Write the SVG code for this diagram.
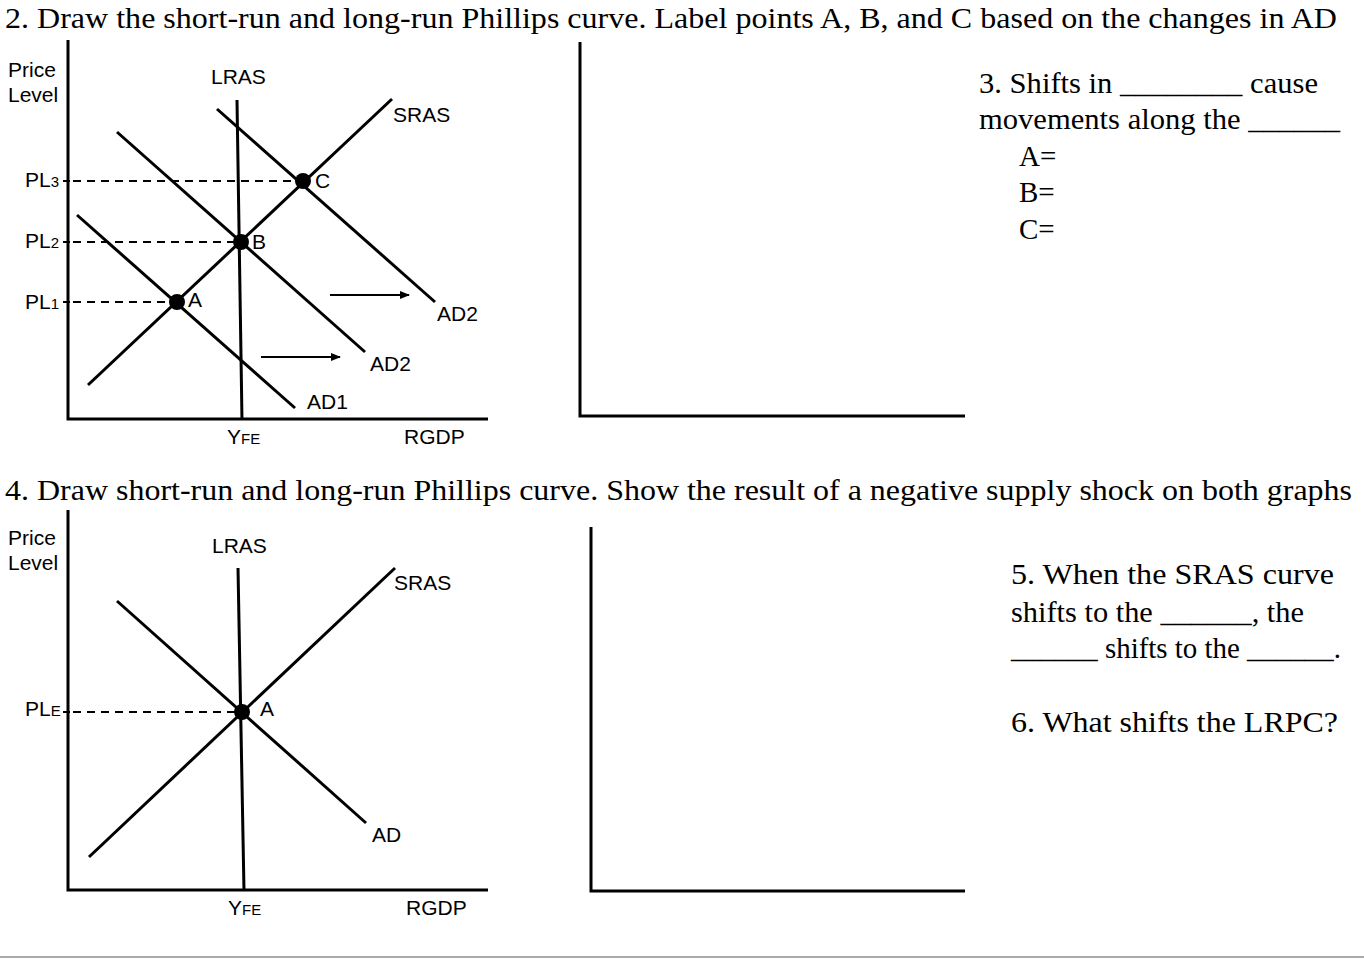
<svg xmlns="http://www.w3.org/2000/svg" width="1364" height="962" viewBox="0 0 1364 962">
<style>
.t{font-family:"Liberation Serif",serif;font-size:29px;fill:#000}
.s{font-family:"Liberation Sans",sans-serif;font-size:21px;fill:#000}
.sm{font-family:"Liberation Sans",sans-serif;font-size:15px}
.ax{stroke:#000;stroke-width:3;fill:none}
.ln{stroke:#000;stroke-width:3;fill:none}
.d{stroke:#000;stroke-width:2;stroke-dasharray:8,6;fill:none}
</style>
<defs><marker id="ar" markerWidth="10" markerHeight="8" refX="9" refY="4" orient="auto" markerUnits="userSpaceOnUse"><path d="M0,0L10,4L0,8z" fill="#000"/></marker></defs>
<rect width="1364" height="962" fill="#fff"/>
<text class="t" x="5" y="28" textLength="1332" lengthAdjust="spacingAndGlyphs">2. Draw the short-run and long-run Phillips curve. Label points A, B, and C based on the changes in AD</text>
<text class="t" x="5" y="500" textLength="1347" lengthAdjust="spacingAndGlyphs">4. Draw short-run and long-run Phillips curve. Show the result of a negative supply shock on both graphs</text>
<g id="graph1">
<path class="ax" d="M68,40V419H488"/>
<path class="ln" d="M237,100L242,420"/>
<path class="ln" d="M88,385L392,99"/>
<path class="ln" d="M77,215L295,408"/>
<path class="ln" d="M117,132L365,352"/>
<path class="ln" d="M217,109L435,302"/>
<path class="d" d="M73,181H303M73,242H241M73,302H177"/>
<path d="M63,181H70M63,242H70M63,302H70" stroke="#000" stroke-width="2"/>
<circle cx="177" cy="302" r="8"/><circle cx="241" cy="242" r="8"/><circle cx="303" cy="181" r="8"/>
<text class="s" x="8" y="77">Price</text><text class="s" x="8" y="102">Level</text>
<text class="s" x="211" y="84">LRAS</text><text class="s" x="393" y="122">SRAS</text>
<text class="s" x="437" y="321">AD2</text><text class="s" x="370" y="371">AD2</text><text class="s" x="307" y="409">AD1</text>
<text class="s" x="227" y="444">Y<tspan class="sm">FE</tspan></text><text class="s" x="404" y="444">RGDP</text>
<text class="s" x="25" y="187">PL<tspan class="sm">3</tspan></text><text class="s" x="25" y="248">PL<tspan class="sm">2</tspan></text><text class="s" x="25" y="309">PL<tspan class="sm">1</tspan></text>
<text class="s" x="188" y="307">A</text><text class="s" x="252" y="249">B</text><text class="s" x="315" y="188">C</text>
</g>
<g id="connectors">
<path d="M330,295H409" stroke="#000" stroke-width="2" marker-end="url(#ar)"/>
<path d="M261,357H340" stroke="#000" stroke-width="2" marker-end="url(#ar)"/>
</g>
<g id="blank1"><path class="ax" d="M580,42V416H965"/></g>
<g id="blank2"><path class="ax" d="M591,527V891H965"/></g>
<g id="graph2">
<path class="ax" d="M68,510V890H488"/>
<path class="ln" d="M238,568L244,891"/>
<path class="ln" d="M89,857L395,568"/>
<path class="ln" d="M117,601L366,823"/>
<path class="d" d="M73,712H242"/>
<path d="M63,712H70" stroke="#000" stroke-width="2"/>
<circle cx="242" cy="712" r="8"/>
<text class="s" x="8" y="545">Price</text><text class="s" x="8" y="570">Level</text>
<text class="s" x="212" y="553">LRAS</text><text class="s" x="394" y="590">SRAS</text>
<text class="s" x="372" y="842">AD</text>
<text class="s" x="228" y="915">Y<tspan class="sm">FE</tspan></text><text class="s" x="406" y="915">RGDP</text>
<text class="s" x="25" y="716">PL<tspan class="sm">E</tspan></text><text class="s" x="260" y="716">A</text>
</g>
<g id="q3">
<text class="t" x="979" y="93" textLength="339" lengthAdjust="spacingAndGlyphs">3. Shifts in ________ cause</text>
<text class="t" x="979" y="129" textLength="361" lengthAdjust="spacingAndGlyphs">movements along the ______</text>
<text class="t" x="1019" y="166">A=</text><text class="t" x="1019" y="202">B=</text><text class="t" x="1019" y="239">C=</text>
</g>
<g id="q5">
<text class="t" x="1011" y="584" textLength="323" lengthAdjust="spacingAndGlyphs">5. When the SRAS curve</text>
<text class="t" x="1011" y="622" textLength="293" lengthAdjust="spacingAndGlyphs">shifts to the ______, the</text>
<text class="t" x="1011" y="658" textLength="330" lengthAdjust="spacingAndGlyphs">______ shifts to the ______.</text>
<text class="t" x="1011" y="732" textLength="327" lengthAdjust="spacingAndGlyphs">6. What shifts the LRPC?</text>
</g>
<path d="M0,957H1364" stroke="#555" stroke-width="1"/>
</svg>
